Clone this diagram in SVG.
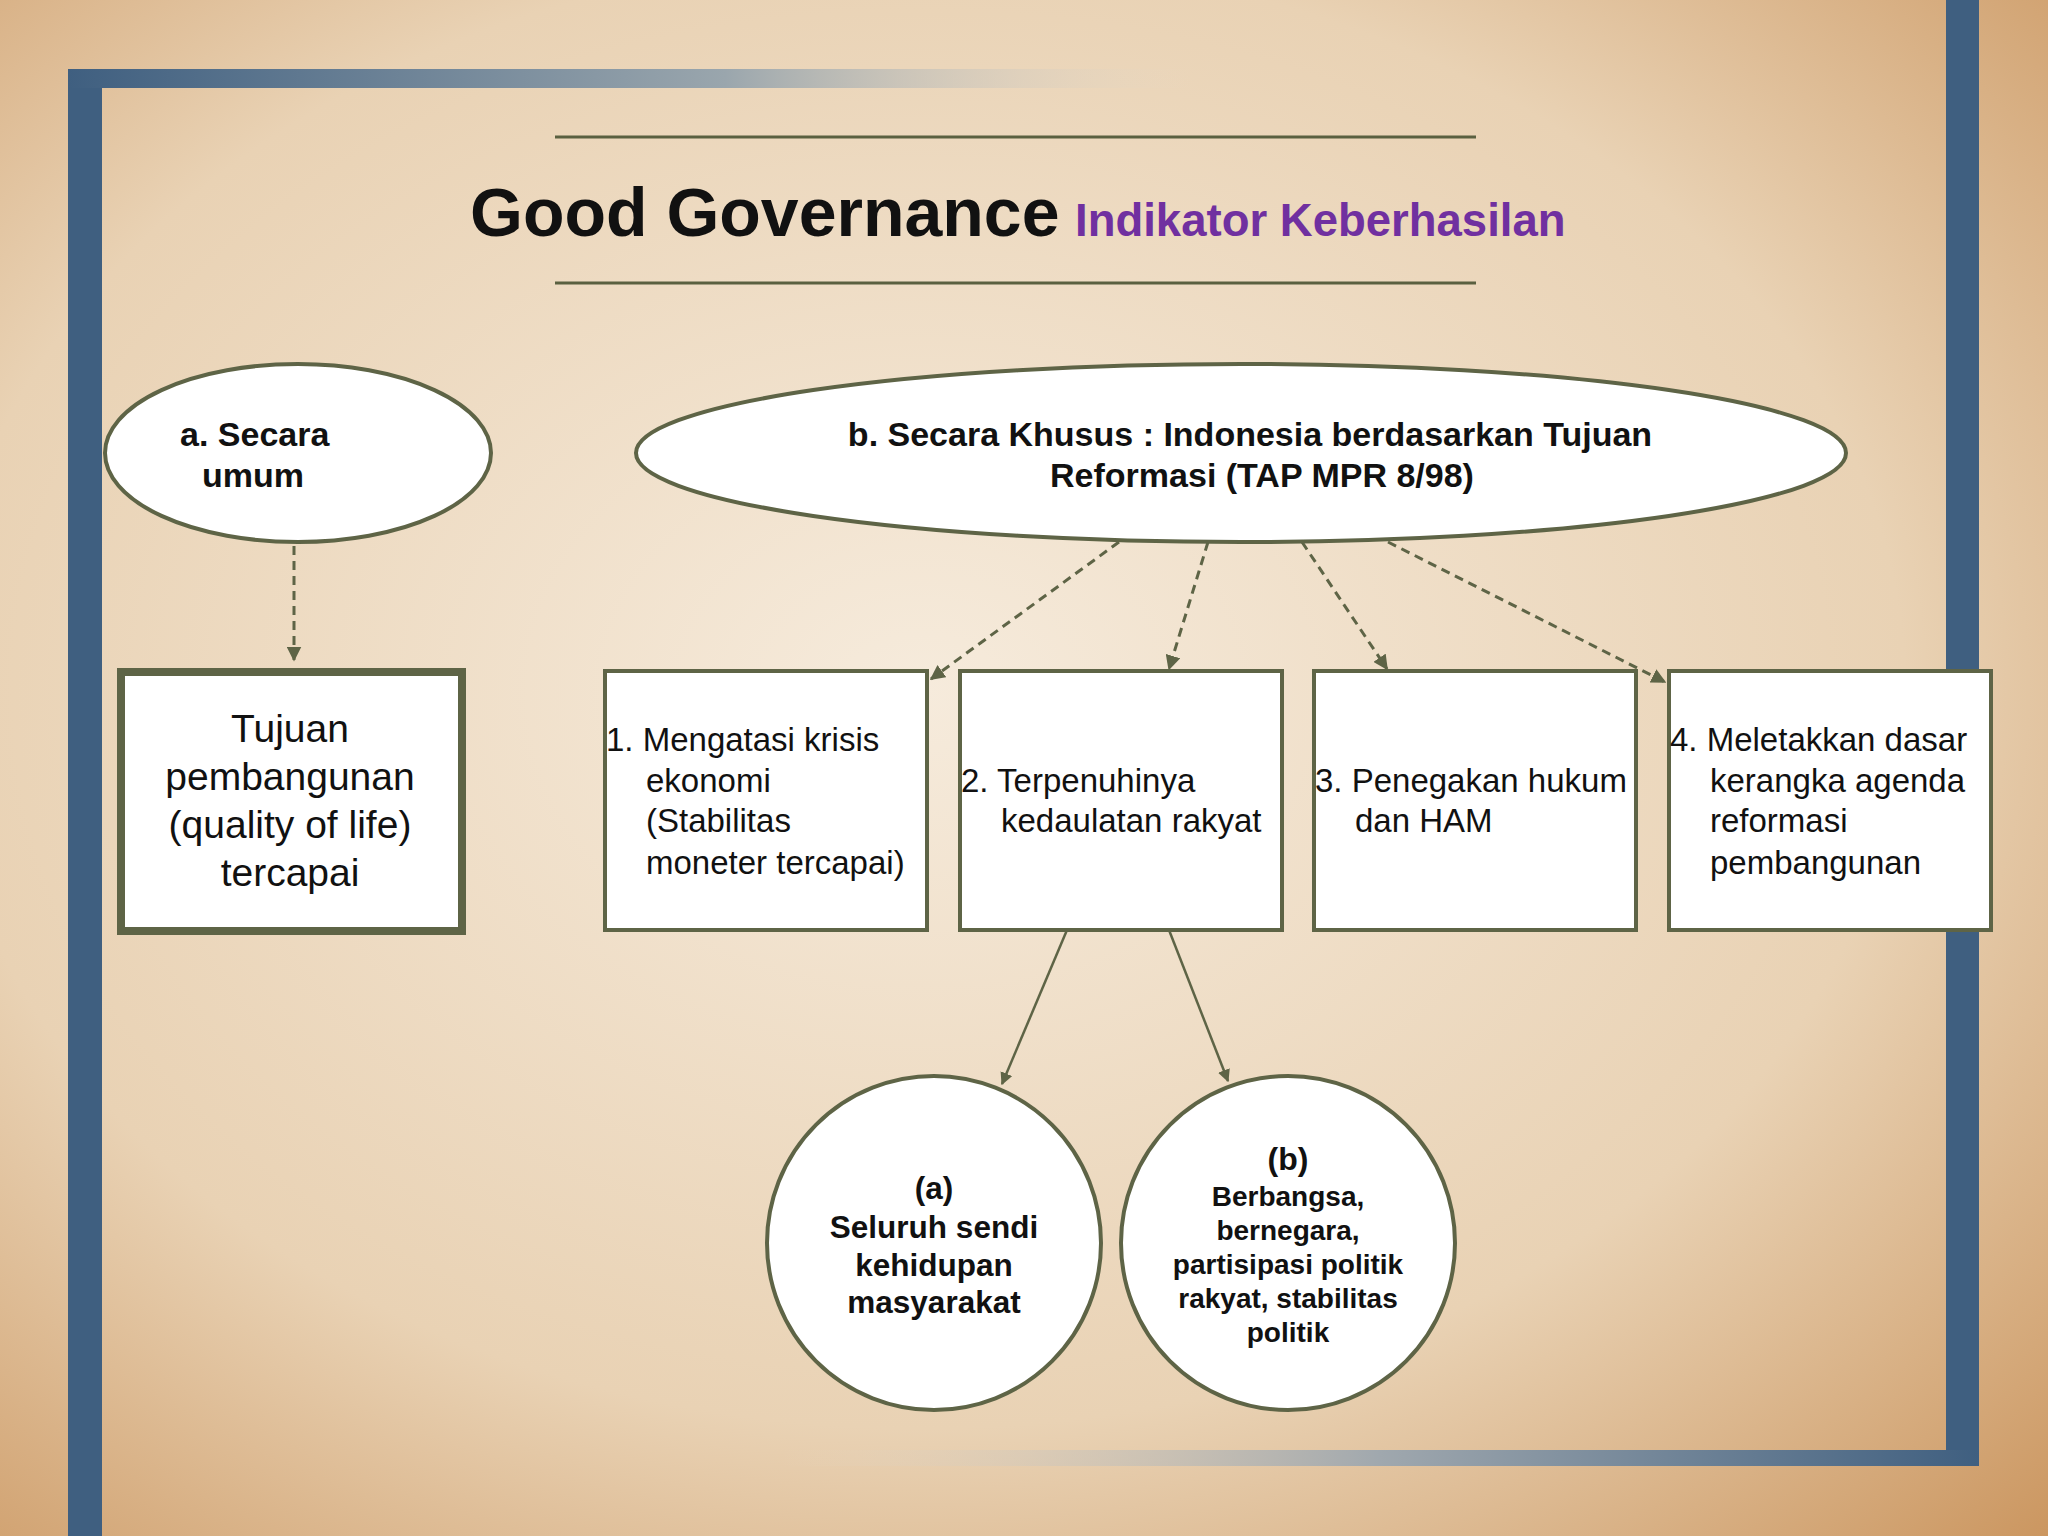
<svg xmlns="http://www.w3.org/2000/svg" width="2048" height="1536" viewBox="0 0 2048 1536">
<defs>
<radialGradient id="bg" cx="0.45" cy="0.45" r="0.8">
<stop offset="0" stop-color="#f6ebdc"/><stop offset="0.6" stop-color="#e9d2b4"/><stop offset="1" stop-color="#c9925a"/>
</radialGradient>
<linearGradient id="top" x1="0" x2="1"><stop offset="0" stop-color="#3f5f80"/><stop offset="0.35" stop-color="#9aa6ad"/><stop offset="0.6" stop-color="#e8dccb" stop-opacity="0"/></linearGradient>
<linearGradient id="bot" x1="0" x2="1"><stop offset="0" stop-color="#e8dccb" stop-opacity="0"/><stop offset="0.5" stop-color="#a0a8ae"/><stop offset="1" stop-color="#3f5f80"/></linearGradient>
<marker id="ah" viewBox="0 0 10 10" refX="9" refY="5" markerWidth="5" markerHeight="5" orient="auto"><path d="M0,0L10,5L0,10z" fill="#5e6446"/></marker>
<style>
.s{fill:#fff;stroke:#5e6446;stroke-width:4}
.t{font-family:"Liberation Sans",Arial,sans-serif;fill:#111}
.b{font-weight:bold}
.p{fill:#7030a0}
.d{stroke:#5e6446;stroke-width:3;fill:none;stroke-dasharray:9 6;marker-end:url(#ah)}
.l{stroke:#5e6446;stroke-width:2.5;fill:none;marker-end:url(#ah)}
</style>
</defs>
<rect width="2048" height="1536" fill="url(#bg)"/>
<rect x="68" y="69" width="34" height="1467" fill="#3f5f80"/>
<rect x="68" y="69" width="1878" height="19" fill="url(#top)"/>
<rect x="1946" y="0" width="33" height="1466" fill="#3f5f80"/>
<rect x="780" y="1450" width="1199" height="16" fill="url(#bot)"/>
<line x1="555" y1="137" x2="1476" y2="137" stroke="#5a6040" stroke-width="3"/>
<line x1="555" y1="283" x2="1476" y2="283" stroke="#5a6040" stroke-width="3"/>
<text x="470" y="236" class="t b" font-size="68">Good Governance</text>
<text x="1075" y="236" class="t b p" font-size="45.5">Indikator Keberhasilan</text>
<g id="connectors">
<line class="d" x1="294" y1="546" x2="294" y2="660"/>
<line class="d" x1="1119" y1="542" x2="931" y2="679"/>
<line class="d" x1="1208" y1="542" x2="1169" y2="669"/>
<line class="d" x1="1302" y1="542" x2="1387" y2="669"/>
<line class="d" x1="1388" y1="542" x2="1665" y2="682"/>
<line class="l" x1="1067" y1="930" x2="1002" y2="1084"/>
<line class="l" x1="1169" y1="930" x2="1228" y2="1081"/>
</g>
<g id="a"><ellipse class="s" cx="298" cy="453" rx="193" ry="89"/>
<text class="t b" font-size="34" x="180" y="446">a. Secara</text><text class="t b" font-size="34" x="202" y="487">umum</text></g>
<g id="b"><ellipse class="s" cx="1241" cy="453" rx="605" ry="89"/>
<text class="t b" font-size="34" text-anchor="middle" x="1250" y="446">b. Secara Khusus : Indonesia berdasarkan Tujuan</text>
<text class="t b" font-size="34" text-anchor="middle" x="1262" y="487">Reformasi (TAP MPR 8/98)</text></g>
<g id="tujuan"><rect x="121" y="672" width="341" height="259" fill="#fff" stroke="#5e6446" stroke-width="8"/>
<text class="t" font-size="39" text-anchor="middle" x="290"><tspan x="290" y="742">Tujuan</tspan><tspan x="290" y="790">pembangunan</tspan><tspan x="290" y="838">(quality of life)</tspan><tspan x="290" y="886">tercapai</tspan></text></g>
<g id="n1"><rect class="s" x="605" y="671" width="322" height="259" stroke-width="3"/>
<text class="t" font-size="33"><tspan x="606" y="751">1. Mengatasi krisis</tspan><tspan x="646" y="792">ekonomi</tspan><tspan x="646" y="832">(Stabilitas</tspan><tspan x="646" y="874">moneter tercapai)</tspan></text></g>
<g id="n2"><rect class="s" x="960" y="671" width="322" height="259" stroke-width="3"/>
<text class="t" font-size="33"><tspan x="961" y="792">2. Terpenuhinya</tspan><tspan x="1001" y="832">kedaulatan rakyat</tspan></text></g>
<g id="n3"><rect class="s" x="1314" y="671" width="322" height="259" stroke-width="3"/>
<text class="t" font-size="33"><tspan x="1315" y="792">3. Penegakan hukum</tspan><tspan x="1355" y="832">dan HAM</tspan></text></g>
<g id="n4"><rect class="s" x="1669" y="671" width="322" height="259" stroke-width="3"/>
<text class="t" font-size="33"><tspan x="1670" y="751">4. Meletakkan dasar</tspan><tspan x="1710" y="792">kerangka agenda</tspan><tspan x="1710" y="832">reformasi</tspan><tspan x="1710" y="874">pembangunan</tspan></text></g>
<g id="ca"><circle class="s" cx="934" cy="1243" r="167" stroke-width="5"/>
<text class="t b" font-size="31.5" text-anchor="middle"><tspan x="934" y="1199">(a)</tspan><tspan x="934" y="1238">Seluruh sendi</tspan><tspan x="934" y="1276">kehidupan</tspan><tspan x="934" y="1313">masyarakat</tspan></text></g>
<g id="cb"><circle class="s" cx="1288" cy="1243" r="167" stroke-width="5"/>
<text class="t b" font-size="28" text-anchor="middle"><tspan x="1288" y="1170" font-size="32">(b)</tspan><tspan x="1288" y="1206">Berbangsa,</tspan><tspan x="1288" y="1240">bernegara,</tspan><tspan x="1288" y="1274">partisipasi politik</tspan><tspan x="1288" y="1308">rakyat, stabilitas</tspan><tspan x="1288" y="1342">politik</tspan></text></g>
</svg>
